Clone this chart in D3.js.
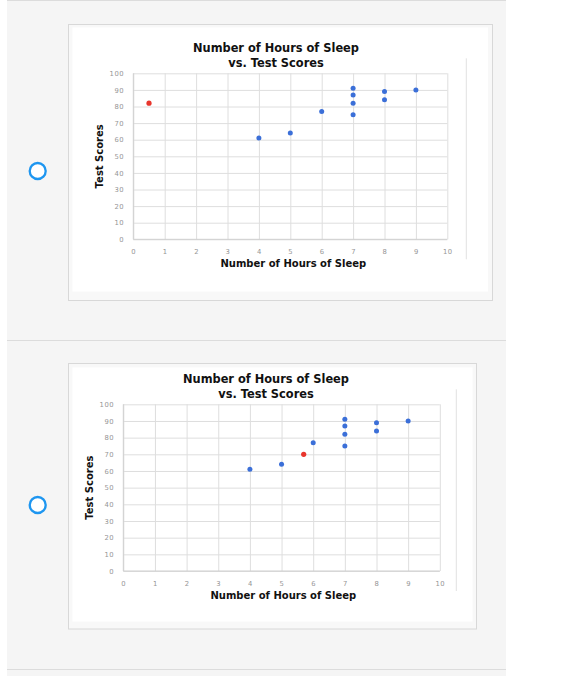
<!DOCTYPE html>
<html>
<head>
<meta charset="utf-8">
<script src="https://cdn.jsdelivr.net/npm/d3@7"></script>
<style>
  body { margin: 0; background: #fff; }
  svg { display: block; }
  .tick text { fill: #969696; font-family: "DejaVu Sans", sans-serif; font-size: 6.8px; letter-spacing: 0.6px; }
  .tick line { stroke: #dedede; }
  .domain { display: none; }
  .title, .axis-title { font-family: "DejaVu Sans", sans-serif; font-weight: bold; fill: #111; }
</style>
</head>
<body>
<div id="quiz"></div>
<script>
// values
const hours = [4, 5, 6, 7, 7, 7, 7, 8, 8, 9];
const scores = [61, 64, 77, 91, 87, 82, 75, 89, 84, 90];
// the extra red point differs between the two answer options
const redHours = [0.5, 5.7];
const redScores = [82, 70];
const xTicks = [0, 1, 2, 3, 4, 5, 6, 7, 8, 9, 10];
const yTicks = [0, 10, 20, 30, 40, 50, 60, 70, 80, 90, 100];
const titleLines = ["Number of Hours of Sleep", "vs. Test Scores"];
const xTitle = "Number of Hours of Sleep";
const yTitle = "Test Scores";

const width = 581;
const height = 676;

// layout of each option: outer box, white image, plot rect, radio button
const options = [
  { box: [68.5, 24.5, 424, 276], img: [72.5, 27.5, 415.5, 264], plot: [133.3, 73.3, 314, 166], radio: [37.7, 171] },
  { box: [68.5, 363.5, 408, 265.5], img: [72.5, 367.5, 400, 254], plot: [123.3, 404.3, 316.5, 166.7], radio: [37.7, 505] },
];

const svg = d3.select("#quiz").append("svg")
  .attr("width", width)
  .attr("height", height);

// grey answer panel with separators
svg.append("rect").attr("x", 7).attr("y", 0).attr("width", 499).attr("height", height).attr("fill", "#f5f5f5");
[0.5, 340.5, 669.5].forEach((y) => {
  svg.append("line").attr("x1", 7).attr("x2", 506).attr("y1", y).attr("y2", y)
    .attr("stroke", "#dcdcdc").attr("stroke-width", 1.2);
});

options.forEach((opt, i) => {
  const g = svg.append("g");

  g.append("circle")
    .attr("cx", opt.radio[0]).attr("cy", opt.radio[1]).attr("r", 8)
    .attr("fill", "#fff").attr("stroke", "#1e96f0").attr("stroke-width", 2.3);

  g.append("rect")
    .attr("x", opt.box[0]).attr("y", opt.box[1]).attr("width", opt.box[2]).attr("height", opt.box[3])
    .attr("fill", "#f8f8f8").attr("stroke", "#d8d8d8");
  g.append("rect")
    .attr("x", opt.img[0]).attr("y", opt.img[1]).attr("width", opt.img[2]).attr("height", opt.img[3])
    .attr("fill", "#fff");

  const [px, py, pw, ph] = opt.plot;
  const x = d3.scaleLinear().domain([0, 10]).range([px, px + pw]);
  const y = d3.scaleLinear().domain([0, 100]).range([py + ph, py]);

  // chart-area right border
  g.append("line")
    .attr("x1", px + 333).attr("x2", px + 333)
    .attr("y1", py - 15).attr("y2", py + ph + 20)
    .attr("stroke", "#e2e2e2");

  g.append("g")
    .attr("transform", `translate(${px},0)`)
    .call(d3.axisLeft(y).tickValues(yTicks).tickSize(-pw).tickPadding(9).tickFormat(d3.format("d")));

  g.append("g")
    .attr("transform", `translate(0,${py + ph})`)
    .call(d3.axisBottom(x).tickValues(xTicks).tickSize(-ph).tickPadding(10).tickFormat(d3.format("d")));

  // axis lines a touch darker than the grid
  g.append("path")
    .attr("d", `M${px},${py}V${py + ph}H${px + pw}`)
    .attr("fill", "none").attr("stroke", "#cfcfcf");

  g.selectAll(".title-line")
    .data(titleLines)
    .join("text")
    .attr("class", "title")
    .attr("x", px + 142.7)
    .attr("y", (d, j) => py - 21 + j * 14.4)
    .attr("text-anchor", "middle")
    .attr("font-size", 11.4)
    .text((d) => d);

  g.append("text")
    .attr("class", "axis-title")
    .attr("x", px + 160)
    .attr("y", py + ph + 28)
    .attr("text-anchor", "middle")
    .attr("font-size", 10)
    .text(xTitle);

  g.append("text")
    .attr("class", "axis-title")
    .attr("transform", `translate(${px - 30},${py + ph / 2}) rotate(-90)`)
    .attr("text-anchor", "middle")
    .attr("font-size", 10)
    .text(yTitle);

  g.selectAll(".dot")
    .data(d3.zip(hours, scores))
    .join("circle")
    .attr("cx", (d) => x(d[0]))
    .attr("cy", (d) => y(d[1]))
    .attr("r", 2.5)
    .attr("fill", "#3b6fd8");

  g.append("circle")
    .attr("cx", x(redHours[i]))
    .attr("cy", y(redScores[i]))
    .attr("r", 2.6)
    .attr("fill", "#e8352c");
});
</script>
</body>
</html>
